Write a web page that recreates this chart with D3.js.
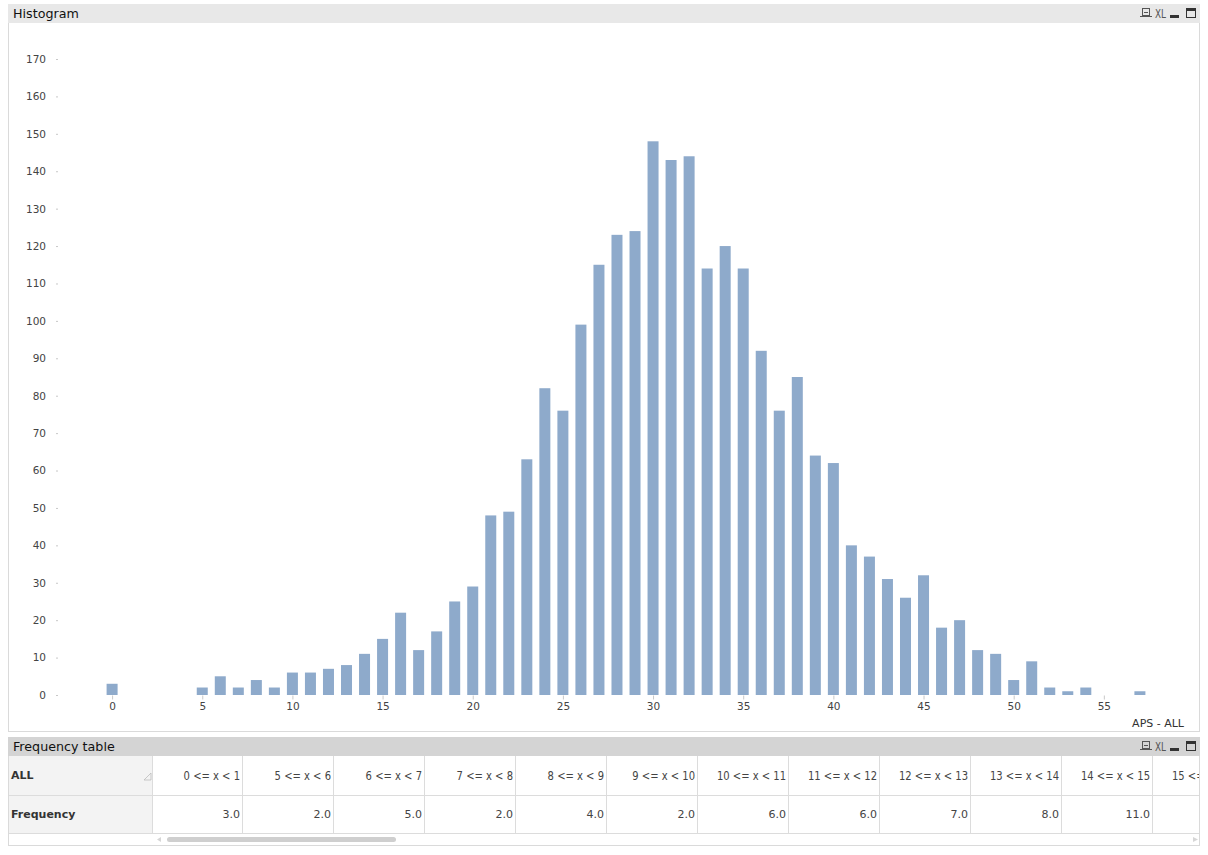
<!DOCTYPE html>
<html>
<head>
<meta charset="utf-8">
<title>Histogram</title>
<script src="https://d3js.org/d3.v7.min.js"></script>
<style>
  body { margin: 0; background: #fff; }
  svg text { font-family: "DejaVu Sans", Verdana, sans-serif; }
</style>
</head>
<body>
<div id="chart"></div>
<script>
// histogram bins (lower bound of each 1-wide bin) and counts
var bins   = [0, 5, 6, 7, 8, 9, 10, 11, 12, 13, 14, 15, 16, 17, 18, 19, 20, 21, 22, 23, 24, 25, 26, 27, 28, 29,
              30, 31, 32, 33, 34, 35, 36, 37, 38, 39, 40, 41, 42, 43, 44, 45, 46, 47, 48, 49, 50, 51, 52, 53, 54, 57];
var counts = [3, 2, 5, 2, 4, 2, 6, 6, 7, 8, 11, 15, 22, 12, 17, 25, 29, 48, 49, 63, 82, 76, 99, 115, 123, 124,
              148, 143, 144, 114, 120, 114, 92, 76, 85, 64, 62, 40, 37, 31, 26, 32, 18, 20, 12, 11, 4, 9, 2, 1, 2, 1];
var yTicks = [0, 10, 20, 30, 40, 50, 60, 70, 80, 90, 100, 110, 120, 130, 140, 150, 160, 170];
var xTicks = [0, 5, 10, 15, 20, 25, 30, 35, 40, 45, 50, 55];

var W = 1208, H = 855;
var svg = d3.select("#chart").append("svg").attr("width", W).attr("height", H);

// panel frame with caption bar and the little icons
function panel(y0, y1, title, barFill) {
    svg.append("rect").attr("x", 8.5).attr("y", y0 + 0.5).attr("width", 1191).attr("height", y1 - y0)
        .attr("fill", "#fff").attr("stroke", "#dadada");
    svg.append("rect").attr("x", 8).attr("y", y0).attr("width", 1192).attr("height", 19).attr("fill", barFill);
    svg.append("text").attr("x", 13).attr("y", y0 + 14).attr("font-size", 12.7).attr("fill", "#111").text(title);
    var g = svg.append("g").attr("transform", "translate(0," + y0 + ")");
    // print icon
    g.append("rect").attr("x", 1142.5).attr("y", 4.5).attr("width", 7).attr("height", 7).attr("fill", "none").attr("stroke", "#555");
    g.append("line").attr("x1", 1140).attr("x2", 1152).attr("y1", 12.5).attr("y2", 12.5).attr("stroke", "#555");
    g.append("line").attr("x1", 1144).attr("x2", 1148).attr("y1", 8.5).attr("y2", 8.5).attr("stroke", "#555");
    g.append("text").attr("transform", "translate(1155,14) scale(0.8,1.1)").attr("font-size", 11).attr("fill", "#555")
        .attr("font-family", "Liberation Sans, sans-serif").text("XL");
    // minimise
    g.append("rect").attr("x", 1170).attr("y", 11).attr("width", 9).attr("height", 3).attr("fill", "#333");
    // maximise
    g.append("rect").attr("x", 1186.5).attr("y", 4.5).attr("width", 9).attr("height", 9).attr("fill", "none").attr("stroke", "#333");
    g.append("rect").attr("x", 1186).attr("y", 4).attr("width", 10).attr("height", 3).attr("fill", "#333");
}

panel(4, 731, "Histogram", "#e8e8e8");
panel(737, 845, "Frequency table", "#d4d4d4");

// ---- histogram ----
var x = d3.scaleLinear().domain([-3, 60]).range([58, 1194]);
var y = d3.scaleLinear().domain([0, 170]).range([695, 59]);
var barW = (x(1) - x(0)) * 0.61;

svg.append("g").selectAll("rect").data(bins).enter().append("rect")
    .attr("x", function(d) { return x(d) - barW / 2; })
    .attr("y", function(d, i) { return y(counts[i]); })
    .attr("width", barW)
    .attr("height", function(d, i) { return y(0) - y(counts[i]); })
    .attr("fill", "#8eaacb");

var yAxis = svg.append("g").attr("transform", "translate(58,0)")
    .call(d3.axisLeft(y).tickValues(yTicks).tickSize(2).tickPadding(10));
var xAxis = svg.append("g").attr("transform", "translate(0,695.5)")
    .call(d3.axisBottom(x).tickValues(xTicks).tickSize(4).tickPadding(3));
[yAxis, xAxis].forEach(function(a) {
    a.select(".domain").remove();
    a.selectAll(".tick line").attr("stroke", "#c8c8c8");
    a.selectAll(".tick text").attr("fill", "#444").attr("font-size", 10.5)
        .attr("font-family", "DejaVu Sans, sans-serif");
});

svg.append("text").attr("x", 1184).attr("y", 727).attr("text-anchor", "end")
    .attr("font-size", 11).attr("fill", "#333").attr("font-family", "Open Sans, sans-serif").text("APS - ALL");

// ---- frequency table (only the columns that fit before the scroll) ----
var rowTop = 756, rowMid = 795, rowBot = 833;
var colW = 91, firstW = 144, x0 = 8;
var nVis = Math.ceil((1200 - x0 - firstW) / colW);
var visBins = bins.slice(0, nVis);

svg.append("clipPath").attr("id", "tclip")
    .append("rect").attr("x", 9).attr("y", 756).attr("width", 1190).attr("height", 78);
var tbl = svg.append("g").attr("clip-path", "url(#tclip)");

tbl.append("rect").attr("x", x0).attr("y", rowTop).attr("width", firstW).attr("height", rowBot - rowTop).attr("fill", "#f3f3f3");

var cols = tbl.selectAll("g.col").data(visBins).enter().append("g")
    .attr("transform", function(d, i) { return "translate(" + (x0 + firstW + i * colW) + ",0)"; });
cols.append("line").attr("x1", colW - 0.5).attr("x2", colW - 0.5).attr("y1", rowTop).attr("y2", rowBot).attr("stroke", "#dcdcdc");
cols.append("text").attr("transform", "translate(" + (colW - 3) + ",780) scale(0.8,1)").attr("text-anchor", "end")
    .attr("font-family", "Open Sans, sans-serif").attr("font-size", 12.5).attr("fill", "#444")
    .text(function(d) { return d + " <= x < " + (d + 1); });
cols.append("text").attr("x", colW - 3).attr("y", 818).attr("text-anchor", "end")
    .attr("font-size", 11).attr("fill", "#444")
    .text(function(d, i) { return counts[i].toFixed(1); });

tbl.append("line").attr("x1", x0 + firstW + 0.5).attr("x2", x0 + firstW + 0.5).attr("y1", rowTop).attr("y2", rowBot).attr("stroke", "#dcdcdc");
tbl.append("line").attr("x1", x0).attr("x2", 1200).attr("y1", rowMid + 0.5).attr("y2", rowMid + 0.5).attr("stroke", "#dcdcdc");
tbl.append("line").attr("x1", x0).attr("x2", 1200).attr("y1", rowBot + 0.5).attr("y2", rowBot + 0.5).attr("stroke", "#dcdcdc");

svg.append("text").attr("x", 11).attr("y", 779).attr("font-size", 11).attr("font-weight", "bold").attr("fill", "#333").text("ALL");
svg.append("text").attr("x", 11).attr("y", 818).attr("font-size", 11).attr("font-weight", "bold").attr("fill", "#333").text("Frequency");
svg.append("path").attr("d", "M144,780 L151,780 L151,773 Z").attr("fill", "none").attr("stroke", "#bbb").attr("stroke-width", 0.8);

// scrollbar
svg.append("path").attr("d", "M157,839.5 L161,837 L161,842 Z").attr("fill", "#d6d6d6");
svg.append("path").attr("d", "M1198,839.5 L1193,837 L1193,842 Z").attr("fill", "#d6d6d6");
svg.append("rect").attr("x", 167).attr("y", 837).attr("width", 229).attr("height", 5).attr("rx", 2.5).attr("fill", "#cfcfcf");
</script>
</body>
</html>
